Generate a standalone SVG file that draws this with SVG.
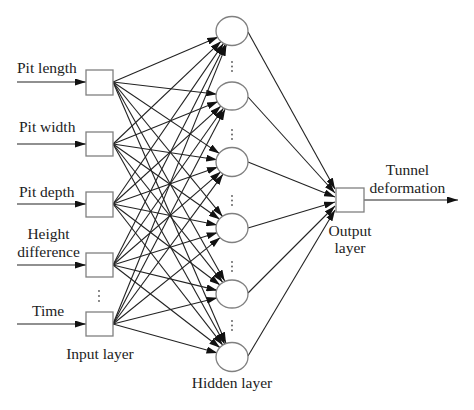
<svg xmlns="http://www.w3.org/2000/svg" width="474" height="410" viewBox="0 0 474 410">
<style>
.box{fill:#fff;stroke:#808080;stroke-width:1.3}
.node{fill:#fff;stroke:#808080;stroke-width:1.3}
.c{stroke:#222;stroke-width:1.1;fill:none;marker-end:url(#ah)}
.t{font-family:"Liberation Serif",serif;font-size:15.5px;fill:#222}
.dot{fill:#555}
</style>
<defs>
<marker id="ah" markerUnits="userSpaceOnUse" markerWidth="11" markerHeight="7" refX="11" refY="3.5" orient="auto">
<path d="M0,0 L11,3.5 L0,7 z" fill="#111"/>
</marker>
</defs>
<rect width="474" height="410" fill="#fff"/>
<g id="connectors">
<line class="c" x1="17" y1="82" x2="86" y2="82"/>
<line class="c" x1="17" y1="144" x2="86" y2="144"/>
<line class="c" x1="17" y1="204" x2="86" y2="204"/>
<line class="c" x1="17" y1="265" x2="86" y2="265"/>
<line class="c" x1="17" y1="324" x2="86" y2="324"/>
<line class="c" x1="113" y1="82" x2="218.2" y2="36.9"/>
<line class="c" x1="113" y1="82" x2="217.1" y2="94.2"/>
<line class="c" x1="113" y1="82" x2="219.5" y2="153.6"/>
<line class="c" x1="113" y1="82" x2="222.5" y2="216.4"/>
<line class="c" x1="113" y1="82" x2="224.7" y2="280.9"/>
<line class="c" x1="113" y1="82" x2="226.0" y2="343.2"/>
<line class="c" x1="113" y1="144" x2="221.1" y2="41.3"/>
<line class="c" x1="113" y1="144" x2="218.1" y2="101.6"/>
<line class="c" x1="113" y1="144" x2="217.2" y2="159.8"/>
<line class="c" x1="113" y1="144" x2="219.7" y2="219.3"/>
<line class="c" x1="113" y1="144" x2="222.7" y2="282.3"/>
<line class="c" x1="113" y1="144" x2="224.7" y2="343.9"/>
<line class="c" x1="113" y1="204" x2="223.5" y2="43.4"/>
<line class="c" x1="113" y1="204" x2="220.9" y2="106.1"/>
<line class="c" x1="113" y1="204" x2="217.9" y2="167.0"/>
<line class="c" x1="113" y1="204" x2="217.3" y2="225.0"/>
<line class="c" x1="113" y1="204" x2="220.0" y2="285.0"/>
<line class="c" x1="113" y1="204" x2="222.8" y2="345.2"/>
<line class="c" x1="113" y1="265" x2="225.2" y2="44.4"/>
<line class="c" x1="113" y1="265" x2="223.4" y2="108.3"/>
<line class="c" x1="113" y1="265" x2="220.7" y2="171.8"/>
<line class="c" x1="113" y1="265" x2="217.7" y2="232.5"/>
<line class="c" x1="113" y1="265" x2="217.4" y2="290.4"/>
<line class="c" x1="113" y1="265" x2="220.1" y2="347.8"/>
<line class="c" x1="113" y1="324" x2="226.4" y2="44.9"/>
<line class="c" x1="113" y1="324" x2="225.1" y2="109.3"/>
<line class="c" x1="113" y1="324" x2="223.1" y2="174.1"/>
<line class="c" x1="113" y1="324" x2="220.3" y2="237.4"/>
<line class="c" x1="113" y1="324" x2="217.5" y2="297.7"/>
<line class="c" x1="113" y1="324" x2="217.5" y2="353.0"/>
<line class="c" x1="248" y1="32" x2="335" y2="189"/>
<line class="c" x1="248" y1="97" x2="335" y2="193"/>
<line class="c" x1="248" y1="162" x2="335" y2="197"/>
<line class="c" x1="248" y1="228" x2="335" y2="202"/>
<line class="c" x1="248" y1="293" x2="335" y2="206"/>
<line class="c" x1="248" y1="356" x2="335" y2="210"/>
<line class="c" x1="364" y1="200" x2="458" y2="200"/>
</g>
<g id="input1"><rect class="box" x="86" y="70" width="27" height="25"/><text class="t" x="17" y="73">Pit length</text></g>
<g id="input2"><rect class="box" x="86" y="132" width="27" height="24"/><text class="t" x="19" y="132">Pit width</text></g>
<g id="input3"><rect class="box" x="86" y="192" width="27" height="25"/><text class="t" x="19" y="197">Pit depth</text></g>
<g id="input4"><rect class="box" x="86" y="253" width="27" height="24"/><text class="t" x="48.5" y="239" text-anchor="middle">Height</text><text class="t" x="48.5" y="257" text-anchor="middle">difference</text></g>
<g id="input5"><rect class="box" x="86" y="312" width="27" height="24"/><text class="t" x="32" y="316">Time</text></g>
<g id="input-dots"><circle class="dot" cx="99" cy="291" r="0.9"/><circle class="dot" cx="99" cy="296" r="0.9"/><circle class="dot" cx="99" cy="301" r="0.9"/></g>
<g id="input-label"><text class="t" x="100" y="359" text-anchor="middle">Input layer</text></g>
<g id="hidden1"><ellipse class="node" cx="232" cy="31" rx="16" ry="14.5"/></g>
<g id="hidden2"><ellipse class="node" cx="232" cy="96" rx="16" ry="14"/></g>
<g id="hidden3"><ellipse class="node" cx="232" cy="162" rx="16" ry="14.5"/></g>
<g id="hidden4"><ellipse class="node" cx="232" cy="228" rx="16" ry="14.5"/></g>
<g id="hidden5"><ellipse class="node" cx="232" cy="294" rx="16" ry="14"/></g>
<g id="hidden6"><ellipse class="node" cx="232" cy="357" rx="16" ry="14.5"/></g>
<g id="hidden-dots">
<circle class="dot" cx="232" cy="62" r="0.9"/><circle class="dot" cx="232" cy="66.5" r="0.9"/><circle class="dot" cx="232" cy="71" r="0.9"/>
<circle class="dot" cx="232" cy="130" r="0.9"/><circle class="dot" cx="232" cy="134.5" r="0.9"/><circle class="dot" cx="232" cy="139" r="0.9"/>
<circle class="dot" cx="232" cy="196" r="0.9"/><circle class="dot" cx="232" cy="200.5" r="0.9"/><circle class="dot" cx="232" cy="205" r="0.9"/>
<circle class="dot" cx="232" cy="262" r="0.9"/><circle class="dot" cx="232" cy="266.5" r="0.9"/><circle class="dot" cx="232" cy="271" r="0.9"/>
<circle class="dot" cx="232" cy="321" r="0.9"/><circle class="dot" cx="232" cy="325.5" r="0.9"/><circle class="dot" cx="232" cy="330" r="0.9"/>
</g>
<g id="hidden-label"><text class="t" x="232" y="388" text-anchor="middle">Hidden layer</text></g>
<g id="output"><rect class="box" x="336" y="188" width="28" height="24"/><text class="t" x="350" y="236" text-anchor="middle">Output</text><text class="t" x="350" y="253" text-anchor="middle">layer</text></g>
<g id="output-label"><text class="t" x="407.5" y="175" text-anchor="middle">Tunnel</text><text class="t" x="407.5" y="193" text-anchor="middle">deformation</text></g>
</svg>
